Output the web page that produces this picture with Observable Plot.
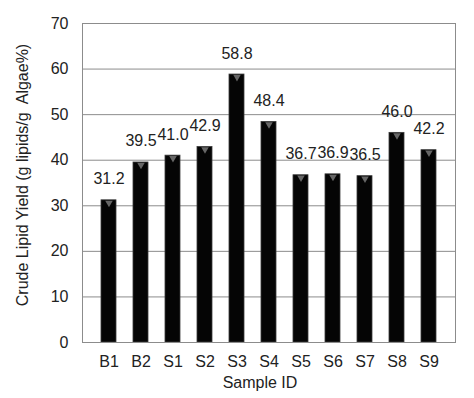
<!DOCTYPE html>
<html>
<head>
<meta charset="utf-8">
<script src="https://cdn.jsdelivr.net/npm/d3@7"></script>
<script src="https://cdn.jsdelivr.net/npm/@observablehq/plot@0.6"></script>
<style>
  html, body { margin: 0; padding: 0; background: #fff; }
  #chart svg { display: block; }
</style>
</head>
<body>
<div id="chart"></div>
<script>
const samples = ["B1", "B2", "S1", "S2", "S3", "S4", "S5", "S6", "S7", "S8", "S9"];
const yields = [31.2, 39.5, 41.0, 42.9, 58.8, 48.4, 36.7, 36.9, 36.5, 46.0, 42.2];
const yTicks = [0, 10, 20, 30, 40, 50, 60, 70];

const data = samples.map((s, i) => ({sample: s, value: yields[i]}));

const chart = Plot.plot({
  width: 474,
  height: 398,
  marginLeft: 82,
  marginRight: 19,
  marginTop: 23,
  marginBottom: 56,
  style: {fontFamily: "'Liberation Sans', Arial, sans-serif", fontSize: "16px", color: "#222", background: "#fff"},
  x: {domain: samples, padding: 0.54, label: null},
  y: {domain: [0, 70], label: null},
  marks: [
    Plot.gridY(yTicks, {stroke: "#8c8c8c", strokeOpacity: 1, strokeWidth: 1}),
    Plot.barY(data, {x: "sample", y: "value", fill: "#050505", stroke: "#3a3a3a", strokeWidth: 0.8}),
    Plot.dot(data, {x: "sample", y: "value", symbol: "triangle", r: 2.8, rotate: 180, fill: "#666", dy: 2.5}),
    Plot.text(data, {x: "sample", y: "value", text: d => d.value.toFixed(1), lineAnchor: "bottom", dy: -16, fontSize: 16, fill: "#222"}),
    Plot.frame({stroke: "#8c8c8c", strokeWidth: 1}),
    Plot.axisY(yTicks, {tickSize: 0, tickPadding: 14, fontSize: 16, label: null, tickFormat: d => d}),
    Plot.axisX({tickSize: 0, tickPadding: 13, fontSize: 16, label: null}),
    Plot.text(["Sample ID"], {frameAnchor: "bottom", dx: -9, dy: 45, fontSize: 16, fill: "#222"}),
    Plot.text(["Crude Lipid Yield (g lipids/g  Algae%)"], {frameAnchor: "left", textAnchor: "middle", dx: -60, dy: -8, rotate: -90, fontSize: 16, fill: "#222"})
  ]
});
document.getElementById("chart").appendChild(chart);
</script>
</body>
</html>
